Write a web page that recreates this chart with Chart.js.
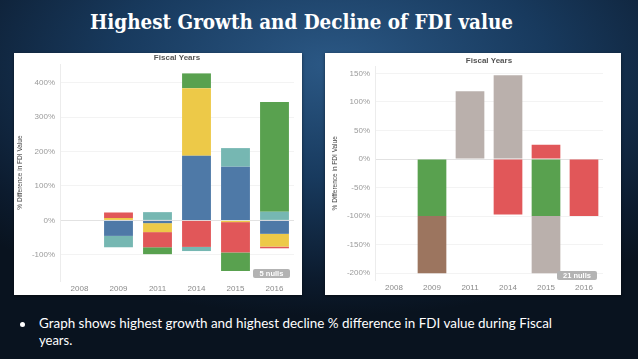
<!DOCTYPE html>
<html>
<head>
<meta charset="utf-8">
<script src="https://cdn.jsdelivr.net/npm/chart.js@4/dist/chart.umd.min.js"></script>
<style>
  html, body { margin: 0; padding: 0; }
  body {
    width: 638px; height: 359px; overflow: hidden; position: relative;
    background: radial-gradient(ellipse 75% 70% at 52% 18%, #2b5885 0%, #183a5e 45%, #0c1b2e 85%, #09131f 100%);
    font-family: Lato, "Open Sans", sans-serif;
  }
  #title {
    position: absolute; left: 90px; top: 12px; margin: 0;
    font-family: "DejaVu Serif", serif; font-weight: bold; font-size: 20.5px;
    line-height: 1; color: #fff; white-space: nowrap; transform-origin: left top;
  }
  .panel {
    position: absolute; top: 53px; height: 242px; background: #fff;
    box-shadow: 0 1px 3px rgba(0,0,0,0.5);
  }
  #leftPanel { left: 14px; width: 288px; }
  #rightPanel { left: 325px; width: 296px; }
  .nulls {
    position: absolute; background: #b3b3b3; color: #fff; border-radius: 2px;
    font: bold 7.5px "Liberation Sans", sans-serif; text-align: center;
    line-height: 9px; height: 9px;
  }
  #bullet {
    position: absolute; left: 20px; top: 321.6px; width: 5.4px; height: 5.4px;
    border-radius: 50%; background: #fff;
  }
  #note {
    position: absolute; left: 39px; top: 315px; color: #fff;
    font-size: 13px; line-height: 17px; white-space: nowrap;
  }
  #note span { display: inline-block; transform-origin: left top; }
</style>
</head>
<body>
<h1 id="title">Highest Growth and Decline of FDI value</h1>

<div class="panel" id="leftPanel"><canvas id="leftChart"></canvas></div>
<div class="panel" id="rightPanel"><canvas id="rightChart"></canvas></div>
<div class="nulls" style="left:253px; top:269px; width:37px;">5 nulls</div>
<div class="nulls" style="left:557px; top:271px; width:40px;">21 nulls</div>

<div id="bullet"></div>
<div id="note"><span id="line1">Graph shows highest growth and highest decline % difference in FDI value during Fiscal</span><br><span>years.</span></div>

<script>
// fiscal years on the x axis
const years = ["2008", "2009", "2011", "2014", "2015", "2016"];

// left chart: % difference per colour group (stack order blue, yellow, red, teal, green)
const leftBlue   = [null, -45,  -8, 188, 156, -39];
const leftYellow = [null,   7, -26, 196,  -5, -37];
const leftRed    = [null,  16, -44, -77, -88,  -5];
const leftTeal   = [null, -33,  24, -12,  54,  25];
const leftGreen  = [null, null, -20, 43, -54, 319];
const leftTicks  = [-100, 0, 100, 200, 300, 400];

// right chart
const rightRed   = [null, null, null, -97,   25, -100];
const rightGreen = [null, -100, null, null, -100, null];
const rightBrown = [null, -100, null, null, null, null];
const rightGray  = [null, null,  119,  147, -100, null];
const rightTicks = [-200, -150, -100, -50, 0, 50, 100, 150];

const COLORS = {
    blue: "#4e79a7", yellow: "#edc948", red: "#e15759", teal: "#76b7b2",
    green: "#59a14f", brown: "#9c755f", gray: "#bab0ac"
};

function fitWidth(el, target) {
    const w = el.getBoundingClientRect().width;
    if (w > 0) el.style.transform = "scaleX(" + (target / w) + ")";
}
fitWidth(document.getElementById("title"), 423);
fitWidth(document.getElementById("line1"), 513);

function makeChart(id, series, ticks, range, box) {
    const ctx = document.getElementById(id).getContext("2d");
    new Chart(ctx, {
        type: "bar",
        data: {
            labels: years,
            datasets: series.map(s => ({
                data: s.data,
                backgroundColor: s.color,
                borderWidth: 0,
                barPercentage: box.barPct,
                categoryPercentage: 1
            }))
        },
        options: {
            responsive: true,
            maintainAspectRatio: false,
            animation: false,
            layout: { padding: { left: 0, right: box.right, top: 0, bottom: 0 } },
            plugins: {
                legend: { display: false },
                tooltip: { enabled: false },
                title: {
                    display: true,
                    text: "Fiscal Years",
                    fullSize: false,
                    color: "#555",
                    font: { family: "Liberation Sans", size: 8, weight: "bold" },
                    padding: { top: box.titleTop, bottom: box.titleBottom }
                }
            },
            scales: {
                x: {
                    stacked: true,
                    grid: { display: false, drawTicks: false },
                    border: { display: false },
                    ticks: {
                        color: "#8a8a8a",
                        padding: 3,
                        maxRotation: 0,
                        font: { family: "Liberation Sans", size: 8 }
                    },
                    afterFit: scale => { scale.height = box.xHeight; }
                },
                y: {
                    stacked: true,
                    min: range[0],
                    max: range[1],
                    afterBuildTicks: scale => { scale.ticks = ticks.map(v => ({ value: v })); },
                    afterFit: scale => { scale.width = box.yWidth; },
                    grid: {
                        drawTicks: false,
                        color: c => c.tick && c.tick.value === 0 ? "#e2e2e2" : "#f3f3f3"
                    },
                    border: { display: true, color: "#ececec" },
                    ticks: {
                        color: "#9a9a9a",
                        padding: 5,
                        font: { family: "Liberation Sans", size: 8 },
                        callback: v => v + "%"
                    },
                    title: {
                        display: true,
                        text: "% Difference in FDI Value",
                        color: "#444",
                        font: { family: "Liberation Sans", size: 6.5 },
                        padding: { top: box.yTitlePad, bottom: 0 }
                    }
                }
            }
        }
    });
}

makeChart("leftChart", [
    { data: leftBlue, color: COLORS.blue },
    { data: leftYellow, color: COLORS.yellow },
    { data: leftRed, color: COLORS.red },
    { data: leftTeal, color: COLORS.teal },
    { data: leftGreen, color: COLORS.green }
], leftTicks, [-176, 454], {
    right: 8, yWidth: 46, xHeight: 14, titleTop: 0, titleBottom: 1.5,
    yTitlePad: 2, barPct: 0.74
});

makeChart("rightChart", [
    { data: rightRed, color: COLORS.red },
    { data: rightGreen, color: COLORS.green },
    { data: rightBrown, color: COLORS.brown },
    { data: rightGray, color: COLORS.gray }
], rightTicks, [-212, 162], {
    right: 18, yWidth: 50, xHeight: 15, titleTop: 2.5, titleBottom: 1.5,
    yTitlePad: 6, barPct: 0.755
});
</script>
</body>
</html>
